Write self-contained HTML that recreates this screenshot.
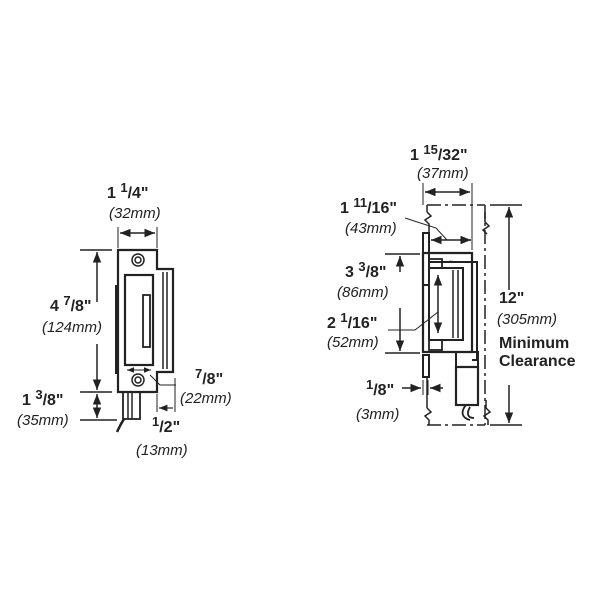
<!DOCTYPE html>
<html><head><meta charset="utf-8"><style>
html,body{margin:0;padding:0;background:#fff;}
svg{display:block;}
text{font-family:"Liberation Sans",sans-serif;fill:#222;}
.i{font-style:italic;font-size:15px;}
.b{font-size:16px;font-weight:bold;}
.s{font-size:13px;}
</style></head><body>
<svg width="600" height="600" viewBox="0 0 600 600" xmlns="http://www.w3.org/2000/svg">
<defs>
<marker id="a" viewBox="0 0 10 10" refX="10" refY="5" markerWidth="7" markerHeight="7" orient="auto-start-reverse"><path d="M0,1 L10,5 L0,9 z" fill="#222"/></marker>
</defs>
<g stroke="#222" fill="none" stroke-width="1.5">
<!-- LEFT DEVICE -->
<path d="M118,250 H157 V269 H173 V372 H157 V392 H118 Z" stroke-width="2.2"/>
<path d="M118,286 H116 V373 H118" stroke-width="2"/>
<rect x="125" y="275" width="28" height="90" stroke-width="2.2"/>
<line x1="163" y1="272" x2="163" y2="369"/><line x1="167" y1="272" x2="167" y2="369"/>
<rect x="143" y="295" width="7" height="52" stroke-width="1.8"/>
<circle cx="138" cy="260" r="6"/><circle cx="138" cy="260" r="3"/>
<circle cx="138" cy="380" r="6"/><circle cx="138" cy="380" r="3"/>
<rect x="123" y="392" width="17" height="27" stroke-width="1.8"/>
<line x1="128" y1="392" x2="128" y2="419"/><line x1="132" y1="392" x2="132" y2="419"/>
<path d="M124,419 C120,425 119,428 117,432" stroke-width="2.5"/>
<!-- left dims -->
<line x1="118" y1="227" x2="118" y2="248" stroke-width="1"/><line x1="157" y1="227" x2="157" y2="248" stroke-width="1"/>
<line x1="120" y1="233" x2="155" y2="233" marker-start="url(#a)" marker-end="url(#a)"/>
<line x1="80" y1="250" x2="112" y2="250"/><line x1="80" y1="392" x2="112" y2="392"/><line x1="80" y1="420" x2="117" y2="420"/>
<line x1="97" y1="252" x2="97" y2="302" marker-start="url(#a)"/>
<line x1="97" y1="344" x2="97" y2="390" marker-end="url(#a)"/>
<line x1="97" y1="394" x2="97" y2="418" marker-start="url(#a)" marker-end="url(#a)"/>
<line x1="127" y1="370" x2="151" y2="370" marker-start="url(#a)" marker-end="url(#a)" stroke-width="1"/>
<path d="M150,375 L160,385 H176" stroke-width="1"/>
<line x1="157" y1="394" x2="157" y2="412" stroke-width="1"/><line x1="175" y1="378" x2="175" y2="412" stroke-width="1"/>
<line x1="159" y1="408" x2="173" y2="408" marker-start="url(#a)" stroke-width="1.2"/>
<!-- RIGHT DEVICE -->
<rect x="423" y="233" width="6" height="52" stroke-width="2"/>
<rect x="423" y="355" width="6" height="22" stroke-width="2"/>
<path d="M423,253 H472 V352 H423 Z" stroke-width="2.2"/>
<path d="M429,262 H477 V360 H472" stroke-width="2"/>
<rect x="429" y="259" width="13" height="9" stroke-width="1.8"/>
<rect x="429" y="268" width="34" height="72" stroke-width="2"/>
<line x1="453" y1="270" x2="453" y2="338"/><line x1="458" y1="270" x2="458" y2="338"/>
<rect x="429" y="340" width="13" height="10" stroke-width="1.8"/>
<path d="M443,262 h6 l2,-2 l2,2 h6" stroke-width="1" stroke-dasharray="3,2"/>
<rect x="456" y="352" width="22" height="15" stroke-width="2"/>
<rect x="456" y="367" width="22" height="38" stroke-width="2.2"/>
<path d="M466,405 C460,412 462,418 470,420 M470,407 C466,414 468,418 474,418" stroke-width="1.8"/>
<!-- clearance -->
<path d="M427,205 H485" stroke-dasharray="14,4,3,4"/>
<path d="M427,425 H485" stroke-dasharray="14,4,3,4"/>
<path d="M485,205 V425" stroke-dasharray="14,4,3,4"/>
<line x1="427" y1="205" x2="427" y2="212"/><path d="M427,212 l4,4 l-6,4 l4,4 V233"/>
<path d="M485,212 V222 l4,4 l-6,4 l4,4"/>
<line x1="427" y1="377" x2="427" y2="408"/><path d="M427,408 l4,4 l-6,4 l4,4 V425"/>
<path d="M486,400 V408 l4,4 l-6,4 l4,4 V425"/>
<!-- right dims -->
<line x1="423" y1="183" x2="423" y2="205" stroke-width="1"/><line x1="472" y1="183" x2="472" y2="250" stroke-width="1"/>
<line x1="425" y1="192" x2="470" y2="192" marker-start="url(#a)" marker-end="url(#a)"/>
<line x1="431" y1="240" x2="471" y2="240" marker-start="url(#a)" marker-end="url(#a)"/>
<path d="M405,218 L436,228 L447,240" stroke-width="1"/>
<line x1="490" y1="205" x2="522" y2="205"/><line x1="490" y1="425" x2="522" y2="425"/>
<line x1="509" y1="207" x2="509" y2="290" marker-start="url(#a)"/>
<line x1="509" y1="385" x2="509" y2="423" marker-end="url(#a)"/>
<line x1="385" y1="254" x2="420" y2="254"/><line x1="385" y1="353" x2="420" y2="353"/>
<line x1="400" y1="272" x2="400" y2="256" marker-end="url(#a)"/>
<line x1="400" y1="308" x2="400" y2="351" marker-end="url(#a)"/>
<line x1="438" y1="275" x2="438" y2="333" marker-start="url(#a)" marker-end="url(#a)"/>
<path d="M388,330 L415,330 L438,312" stroke-width="1"/>
<line x1="423" y1="380" x2="423" y2="395" stroke-width="1"/><line x1="428" y1="380" x2="428" y2="395" stroke-width="1"/>
<line x1="402" y1="388" x2="421" y2="388" marker-end="url(#a)"/>
<line x1="443" y1="388" x2="430" y2="388" marker-end="url(#a)"/>
</g>
<!-- labels -->
<text class="b" x="107" y="198">1 <tspan class="s" dy="-6">1</tspan><tspan dy="6">/4"</tspan></text>
<text class="i" x="109" y="218">(32mm)</text>
<text class="b" x="50" y="311">4 <tspan class="s" dy="-6">7</tspan><tspan dy="6">/8"</tspan></text>
<text class="i" x="42" y="332">(124mm)</text>
<text class="b" x="22" y="405">1 <tspan class="s" dy="-6">3</tspan><tspan dy="6">/8"</tspan></text>
<text class="i" x="17" y="425">(35mm)</text>
<text class="b" x="195" y="384"><tspan class="s" dy="-6">7</tspan><tspan dy="6">/8"</tspan></text>
<text class="i" x="180" y="403">(22mm)</text>
<text class="b" x="152" y="432"><tspan class="s" dy="-6">1</tspan><tspan dy="6">/2"</tspan></text>
<text class="i" x="136" y="455">(13mm)</text>
<text class="b" x="410" y="160">1 <tspan class="s" dy="-6">15</tspan><tspan dy="6">/32"</tspan></text>
<text class="i" x="417" y="178">(37mm)</text>
<text class="b" x="340" y="213">1 <tspan class="s" dy="-6">11</tspan><tspan dy="6">/16"</tspan></text>
<text class="i" x="345" y="233">(43mm)</text>
<text class="b" x="345" y="277">3 <tspan class="s" dy="-6">3</tspan><tspan dy="6">/8"</tspan></text>
<text class="i" x="337" y="297">(86mm)</text>
<text class="b" x="327" y="328">2 <tspan class="s" dy="-6">1</tspan><tspan dy="6">/16"</tspan></text>
<text class="i" x="327" y="347">(52mm)</text>
<text class="b" x="366" y="395"><tspan class="s" dy="-6">1</tspan><tspan dy="6">/8"</tspan></text>
<text class="i" x="356" y="419">(3mm)</text>
<text class="b" x="499" y="303">12"</text>
<text class="i" x="497" y="324">(305mm)</text>
<text class="b" x="499" y="348">Minimum</text>
<text class="b" x="499" y="366">Clearance</text>
</svg>
</body></html>
